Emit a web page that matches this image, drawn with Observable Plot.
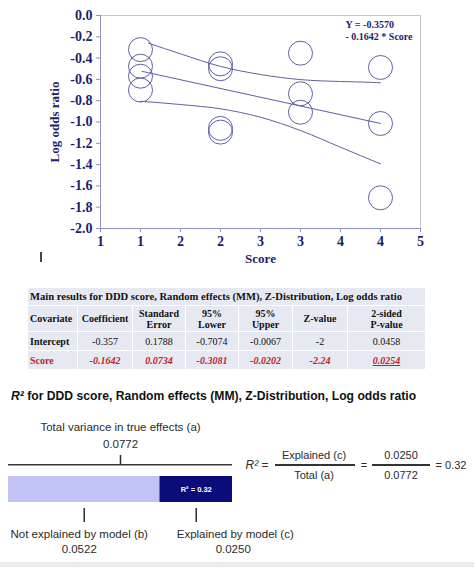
<!DOCTYPE html>
<html>
<head>
<meta charset="utf-8">
<script src="https://cdn.jsdelivr.net/npm/d3@7"></script>
<script src="https://cdn.jsdelivr.net/npm/@observablehq/plot@0.6"></script>
<style>
  html, body { margin: 0; padding: 0; background: #fff; }
  #page { position: relative; width: 474px; height: 567px; overflow: hidden; }
  .abs { position: absolute; }
  .c { position: absolute; transform: translate(-50%, -50%); white-space: nowrap; }
  #results { position: absolute; left: 27px; top: 287px; border-collapse: collapse; table-layout: fixed;
    font-family: "Liberation Serif", "Times New Roman", serif; font-size: 10px; color: #111; }
  #results td { background: #e6e9f2; border: 1px solid #fff; text-align: center; padding: 0; line-height: 11px; }
  #results .title td { text-align: left; font-weight: bold; font-size: 10.6px; height: 17px; padding-left: 2px; }
  #results .head td { font-weight: bold; height: 25px; }
  #results .head td:first-child, #results .row td:first-child { text-align: left; padding-left: 2px; font-weight: bold; }
  #results .row td { height: 18px; }
  #results .sig td { color: #c1232b; font-weight: bold; font-style: italic; }
  #results .sig td:first-child { font-style: normal; }
  #results .u { text-decoration: underline; }
  .cal { font-family: "Liberation Sans", Arial, sans-serif; color: #2b2b2b; }
</style>
</head>
<body>
<div id="page"></div>
<script>
// Meta-regression of log odds ratio on DDD score
const scores  = [1, 1, 1, 1, 2, 2, 2, 2, 3, 3, 3, 4, 4, 4];
const logOdds = [-0.32, -0.476, -0.57, -0.70, -0.454, -0.50, -1.06, -1.095, -0.354, -0.735, -0.908, -0.488, -1.014, -1.712];

// Regression coefficients (intercept, slope) and the range of the fitted line
const intercept = -0.3570;
const slope = -0.1642;
const fitRange = [1.02, 4];

// 95% confidence band around the fitted line
const upperX = [1.1, 1.5, 2, 2.5, 3, 3.5, 3.9, 4];
const upperY = [-0.26, -0.36, -0.478, -0.554, -0.602, -0.62, -0.628, -0.632];
const lowerX = [1, 1.5, 2, 2.5, 3, 3.5, 4];
const lowerY = [-0.805, -0.836, -0.876, -0.955, -1.08, -1.237, -1.393];

// Axis ticks
const xTicks = [0.5, 1, 1.5, 2, 2.5, 3, 3.5, 4, 4.5];
const xTickLabels = ["1", "1", "2", "2", "3", "3", "4", "4", "5"];
const yTicks = [0, -0.2, -0.4, -0.6, -0.8, -1.0, -1.2, -1.4, -1.6, -1.8, -2.0];

// Results table
const tableTitle = "Main results for DDD score, Random effects (MM), Z-Distribution, Log odds ratio";
const tableHeader = ["Covariate", "Coefficient", "Standard<br>Error", "95%<br>Lower", "95%<br>Upper", "Z-value", "2-sided<br>P-value"];
const interceptRow = ["Intercept", "-0.357", "0.1788", "-0.7074", "-0.0067", "-2", "0.0458"];
const scoreRow = ["Score", "-0.1642", "0.0734", "-0.3081", "-0.0202", "-2.24", "0.0254"];
const colWidths = [50, 55, 53, 53, 54, 55, 78];

// Variance decomposition (R²)
const totalVariance = 0.0772;
const partLabels = ["Not explained by model (b)", "Explained by model (c)"];
const partValues = [0.0522, 0.0250];
const rSquared = 0.32;

const navy = "#1d1d6b";
const axisGray = "#8e92bb";
const markColor = "#5c609f";

const page = document.getElementById("page");

// ---- Scatter plot with fitted line and confidence band ----
const points = scores.map((s, i) => ({score: s, lor: logOdds[i]}));
const fit = fitRange.map(s => ({score: s, lor: intercept + slope * s}));
const upper = upperX.map((s, i) => ({score: s, lor: upperY[i]}));
const lower = lowerX.map((s, i) => ({score: s, lor: lowerY[i]}));
const xTickData = xTicks.map((t, i) => ({t, label: xTickLabels[i]}));

const serif = "Liberation Serif, Times New Roman, serif";
const labelStyle = {fill: navy, fontSize: 13, fontWeight: "bold", fontFamily: serif};
const tickStyle = {...labelStyle, fontSize: 14};

const chart = Plot.plot({
  width: 474,
  height: 270,
  marginLeft: 100,
  marginRight: 54,
  marginTop: 15,
  marginBottom: 42,
  style: {fontFamily: serif, fontSize: "13px", fontWeight: "bold", color: navy, background: "transparent"},
  x: {domain: [0.5, 4.5]},
  y: {domain: [-2, 0]},
  marks: [
    Plot.frame({stroke: "#c3c6df"}),
    Plot.ruleX([0.5], {stroke: axisGray}),
    Plot.ruleY([-2], {stroke: axisGray}),
    // tick marks
    Plot.axisY({ticks: yTicks, tickFormat: () => "", tickSize: 4, stroke: axisGray, label: null}),
    Plot.axisX({ticks: xTicks, tickFormat: () => "", tickSize: 4, stroke: axisGray, label: null}),
    // tick labels
    Plot.text(yTicks, {x: 0.5, y: d => d, text: d => d.toFixed(1), textAnchor: "end", lineAnchor: "middle", dx: -8, ...tickStyle}),
    Plot.text(xTickData, {x: "t", text: "label", frameAnchor: "bottom", lineAnchor: "middle", dy: 13, ...tickStyle}),
    // confidence band and fitted line
    Plot.line(upper, {x: "score", y: "lor", stroke: markColor, strokeWidth: 1, curve: "monotone-x"}),
    Plot.line(lower, {x: "score", y: "lor", stroke: markColor, strokeWidth: 1, curve: "monotone-x"}),
    Plot.line(fit, {x: "score", y: "lor", stroke: markColor, strokeWidth: 1}),
    // studies
    Plot.dot(points, {x: "score", y: "lor", r: 12, stroke: markColor, strokeWidth: 1, fill: "none"}),
    Plot.text([`Y = ${intercept.toFixed(4)}\n- ${Math.abs(slope).toFixed(4)} * Score`], {
      frameAnchor: "top-right", textAnchor: "start", lineAnchor: "top", lineHeight: 1.2,
      dx: -75, dy: 4, fill: navy, fontSize: 10, fontWeight: "bold"}),
    Plot.text(["Log odds ratio"], {frameAnchor: "left", textAnchor: "middle", lineAnchor: "middle",
      rotate: -90, dx: -46, ...labelStyle}),
    Plot.text(["Score"], {frameAnchor: "bottom", lineAnchor: "middle", dy: 30, ...labelStyle})
  ]
});
chart.style.position = "absolute";
chart.style.left = "0px";
chart.style.top = "0px";
page.appendChild(chart);

// small cursor mark left below the axis
const cursor = document.createElement("div");
cursor.className = "abs";
Object.assign(cursor.style, {left: "40px", top: "252px", width: "1.5px", height: "10px", background: "#444"});
page.appendChild(cursor);

// ---- Results table ----
const table = document.createElement("table");
table.id = "results";
const colgroup = document.createElement("colgroup");
colWidths.forEach(w => { const c = document.createElement("col"); c.style.width = w + "px"; colgroup.appendChild(c); });
table.appendChild(colgroup);
const trTitle = document.createElement("tr");
trTitle.className = "title";
trTitle.innerHTML = `<td colspan="7">${tableTitle}</td>`;
table.appendChild(trTitle);
const trHead = document.createElement("tr");
trHead.className = "head";
trHead.innerHTML = tableHeader.map(h => `<td>${h}</td>`).join("");
table.appendChild(trHead);
const trInt = document.createElement("tr");
trInt.className = "row";
trInt.innerHTML = interceptRow.map(v => `<td>${v}</td>`).join("");
table.appendChild(trInt);
const trScore = document.createElement("tr");
trScore.className = "row sig";
trScore.innerHTML = scoreRow.map((v, i) => `<td>${i === scoreRow.length - 1 ? `<span class="u">${v}</span>` : v}</td>`).join("");
table.appendChild(trScore);
page.appendChild(table);

// ---- R² heading ----
const heading = document.createElement("div");
heading.className = "abs cal";
Object.assign(heading.style, {left: "11px", top: "388px", fontSize: "13px", fontWeight: "bold", color: "#111",
  whiteSpace: "nowrap", transform: "scaleX(0.935)", transformOrigin: "0 0"});
heading.innerHTML = "<i>R²</i> for DDD score, Random effects (MM), Z-Distribution, Log odds ratio";
page.appendChild(heading);

// ---- Variance decomposition bar ----
let acc = 0;
const parts = partValues.map((v, i) => { const p = {label: partLabels[i], value: v, x1: acc, x2: acc + v}; acc += v; return p; });
parts.forEach(p => p.mid = (p.x1 + p.x2) / 2);
const sans = "Liberation Sans, Arial, sans-serif";
const txt = "#2b2b2b";
const fs = 11.5;

const decomp = Plot.plot({
  width: 474,
  height: 152,
  marginLeft: 8,
  marginRight: 242,
  marginTop: 66,
  marginBottom: 60,
  style: {fontFamily: sans, background: "transparent"},
  x: {domain: [0, totalVariance], axis: null},
  marks: [
    // total variance line with its tick and labels
    Plot.barX([totalVariance], {x1: 0, x2: d => d, fill: "#3a3a3a", insetTop: -12, insetBottom: 36.5}),
    Plot.ruleX([totalVariance / 2], {stroke: "#2b2b2b", strokeWidth: 1.5, insetTop: -21, insetBottom: 38}),
    Plot.text(["Total variance in true effects (a)"], {x: totalVariance / 2, frameAnchor: "top", lineAnchor: "middle", dy: -49, fill: txt, fontSize: fs}),
    Plot.text([totalVariance.toFixed(4)], {x: totalVariance / 2, frameAnchor: "top", lineAnchor: "middle", dy: -32, fill: txt, fontSize: fs}),
    // explained / not explained segments
    Plot.barX(parts, {x1: "x1", x2: "x2", fill: (d, i) => i === 0 ? "#c1c3f6" : "#0b0b79"}),
    Plot.text([`R² = ${rSquared.toFixed(2)}`], {x: parts[1].mid, frameAnchor: "middle", fill: "#fff", fontSize: 7.5, fontWeight: "bold"}),
    Plot.ruleX(parts, {x: "mid", stroke: "#2b2b2b", strokeWidth: 1.5, insetTop: 32, insetBottom: -20}),
    // labels under the segments
    Plot.text([parts[0]], {x: "mid", text: "label", frameAnchor: "bottom", lineAnchor: "middle", dy: 32, dx: -5, fill: txt, fontSize: fs}),
    Plot.text([parts[0]], {x: "mid", text: d => d.value.toFixed(4), frameAnchor: "bottom", lineAnchor: "middle", dy: 47, dx: -5, fill: txt, fontSize: fs}),
    Plot.text([parts[1]], {x: "mid", text: "label", frameAnchor: "bottom", lineAnchor: "middle", dy: 32, dx: 39, fill: txt, fontSize: fs}),
    Plot.text([parts[1]], {x: "mid", text: d => d.value.toFixed(4), frameAnchor: "bottom", lineAnchor: "middle", dy: 47, dx: 37, fill: txt, fontSize: fs})
  ]
});
decomp.style.position = "absolute";
decomp.style.left = "0px";
decomp.style.top = "410px";
page.appendChild(decomp);

// ---- R² formula ----
function place(html, x, y, extra = {}) {
  const el = document.createElement("div");
  el.className = "c cal";
  el.innerHTML = html;
  Object.assign(el.style, {left: x + "px", top: y + "px", fontSize: "11px"}, extra);
  page.appendChild(el);
  return el;
}
function bar(x1, x2, y) {
  const el = document.createElement("div");
  el.className = "abs";
  Object.assign(el.style, {left: x1 + "px", top: y + "px", width: (x2 - x1) + "px", height: "1.5px", background: "#333"});
  page.appendChild(el);
}
const explained = partValues[1];
place("<i>R²</i> =", 257, 465, {fontSize: "12px"});
place("Explained (c)", 314, 455);
bar(275, 355, 464);
place("Total (a)", 314, 475);
place("=", 364, 465);
place(explained.toFixed(4), 401, 455);
bar(372, 430, 464);
place(totalVariance.toFixed(4), 401, 475);
place(`= ${rSquared.toFixed(2)}`, 451, 465);

// grey strip at the bottom edge
const strip = document.createElement("div");
strip.className = "abs";
Object.assign(strip.style, {left: "0px", top: "562px", width: "474px", height: "5px", background: "#ececec"});
page.appendChild(strip);
</script>
</body>
</html>
